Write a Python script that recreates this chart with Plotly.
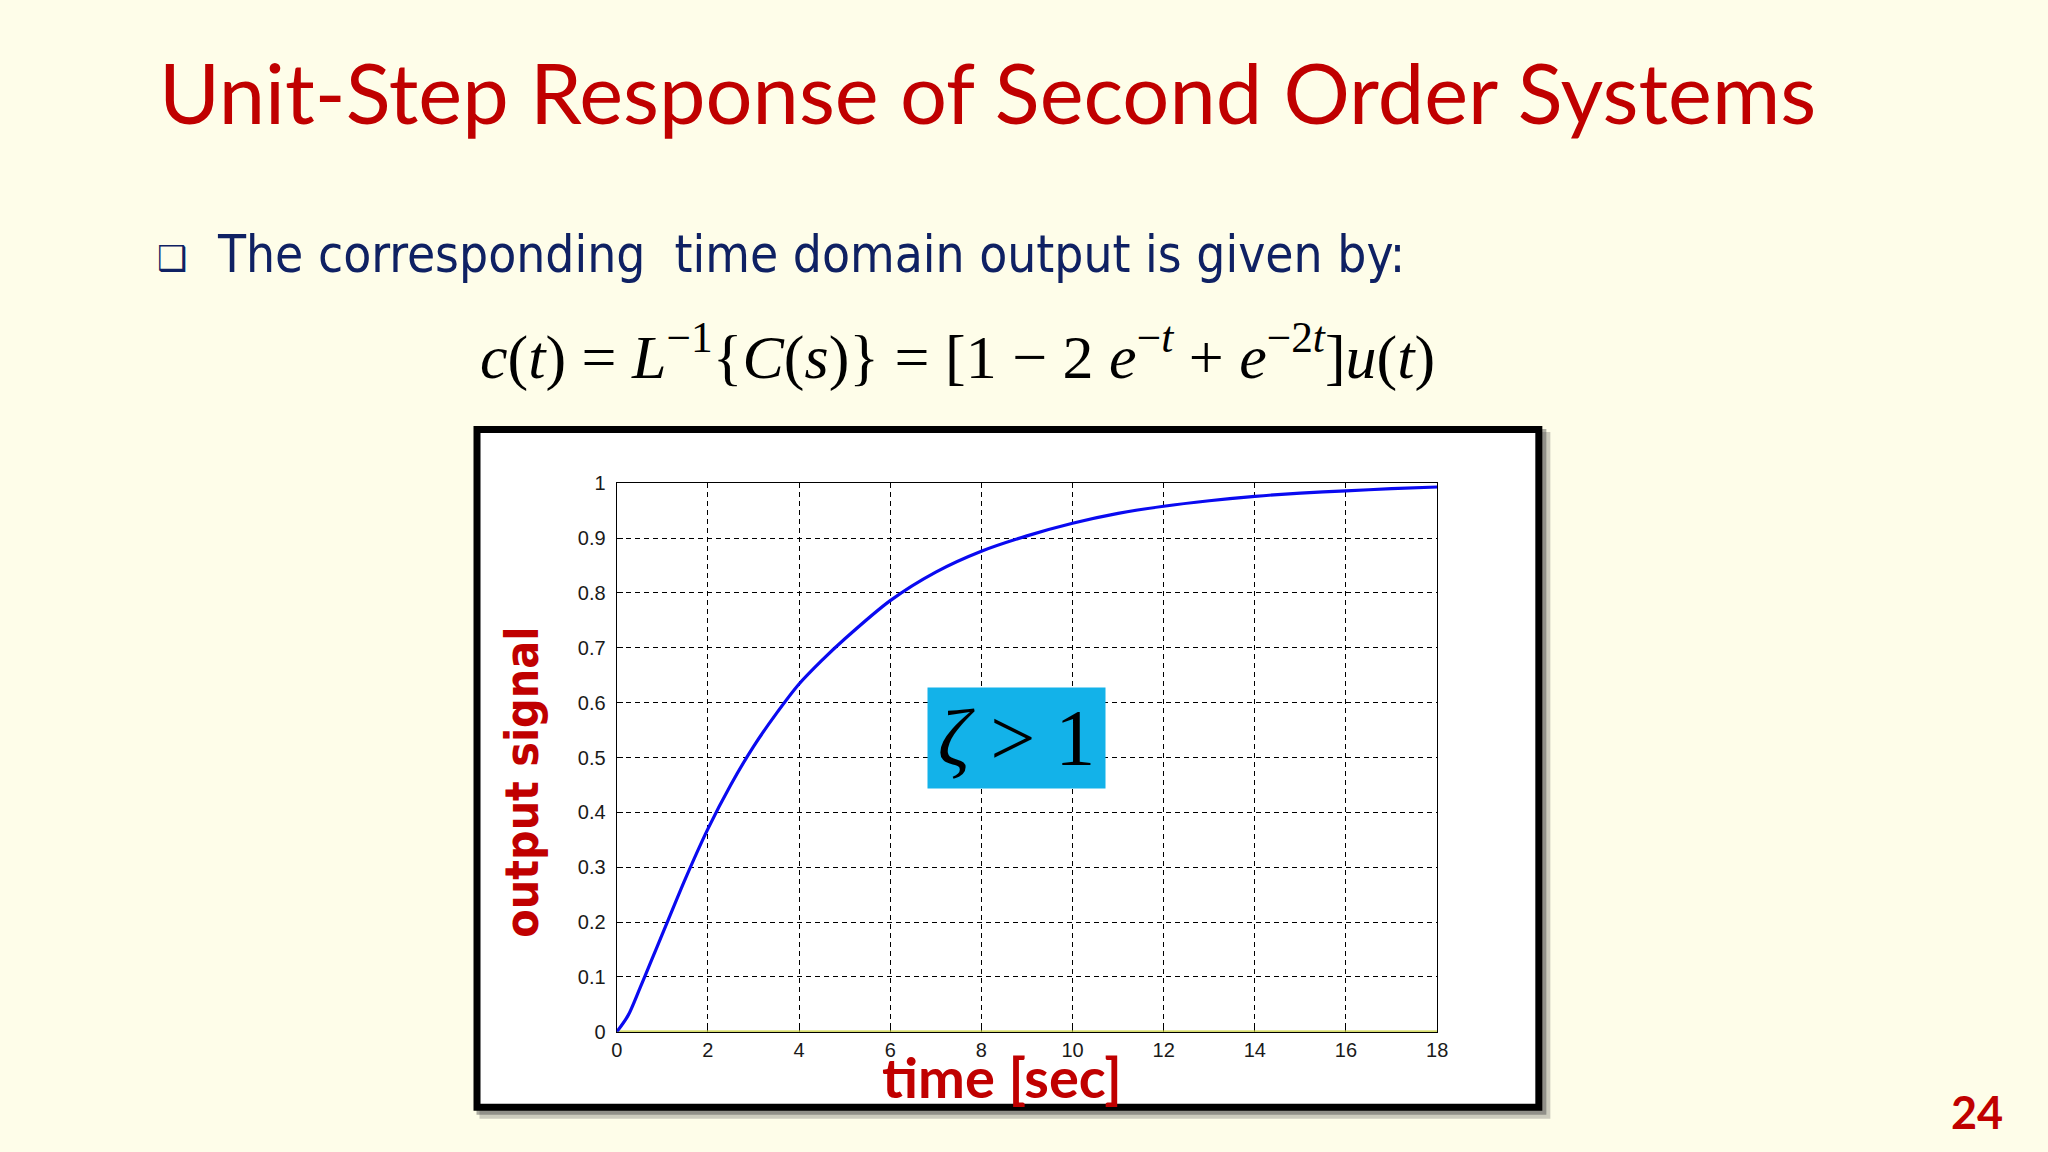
import plotly.graph_objects as go

# ---- data ----
t_sec = [0, 0.25, 0.5, 0.75, 1.0, 1.5, 2.0, 2.5, 3.0, 3.5, 4.0, 4.5, 5.0, 6.0,
         7.0, 8, 9, 10, 11, 12, 13, 14, 15, 16, 17, 18]
c_out = [0, 0.030, 0.078, 0.128, 0.178, 0.278, 0.370, 0.450, 0.520, 0.580, 0.634, 0.677, 0.716, 0.786,
         0.838, 0.876, 0.904, 0.927, 0.945, 0.958, 0.968, 0.976, 0.982, 0.986, 0.990, 0.993]
input_t = [0, 18]
input_v = [0, 0]
x_ticks = [0, 2, 4, 6, 8, 10, 12, 14, 16, 18]
y_ticks = [0, 0.1, 0.2, 0.3, 0.4, 0.5, 0.6, 0.7, 0.8, 0.9, 1]

title_text = "Unit-Step Response of Second Order Systems"
bullet_text = "The corresponding  time domain output is given by:"
formula_text = ("<i>c</i>(<i>t</i>) = <i>L</i><sup>−1</sup>{<i>C</i>(<i>s</i>)} = "
                "[1 − 2 <i>e</i><sup>−<i>t</i></sup> + <i>e</i><sup>−2<i>t</i></sup>]<i>u</i>(<i>t</i>)")
zeta_text = "<i>ζ</i> &gt; 1"
xlabel = "time [sec]"
ylabel = "output signal"
page_no = "24"

W, H = 2048, 1152
def px(x):
    return x / W
def py(y):
    return 1 - y / H
# small calibration for the framed plot box
def cx(x):
    return px((x - 7.3) / 0.990)
def cy(y):
    return py((y - 13.7) / 0.977)

RED = "#C00000"
NAVY = "#0F2163"
BG = "#FEFDE9"

fig = go.Figure()
fig.add_trace(go.Scatter(x=input_t, y=input_v, mode="lines",
                         line=dict(color="#C9D13A", width=2.5), hoverinfo="skip"))
fig.add_trace(go.Scatter(x=t_sec, y=c_out, mode="lines",
                         line=dict(color="#0A0AF0", width=3.2, shape="spline", smoothing=0.8),
                         hoverinfo="skip"))

# plot-area position (pixels)
L, R, T, B = 617, 1436, 484, 1030.5

axis_common = dict(showline=True, mirror=True, linecolor="black", linewidth=1.3,
                   showgrid=True, gridcolor="black", gridwidth=1.3, griddash="5px,4px",
                   zeroline=False, ticks="inside", ticklen=6, tickcolor="black",
                   tickfont=dict(family="Liberation Sans, Arial", size=20, color="#1a1a1a"),
                   layer="below traces")

fig.update_layout(
    width=W, height=H,
    margin=dict(l=0, r=0, t=0, b=0),
    paper_bgcolor=BG, plot_bgcolor="white",
    showlegend=False,
    xaxis=dict(domain=[cx(L), cx(R)], range=[0, 18], tickvals=x_ticks, **axis_common),
    yaxis=dict(domain=[cy(B), cy(T)], range=[0, 1], tickvals=y_ticks,
               ticklabelstandoff=6, **axis_common),
)

# frame around the plot image (shadow + black border)
fig.add_shape(type="rect", xref="paper", yref="paper", layer="below",
              x0=cx(480), x1=cx(1549), y0=cy(433), y1=cy(1117),
              fillcolor="rgba(90,90,90,0.30)", line=dict(width=0))
fig.add_shape(type="rect", xref="paper", yref="paper", layer="below",
              x0=cx(477), x1=cx(1545), y0=cy(430), y1=cy(1113),
              fillcolor="rgba(70,70,70,0.45)", line=dict(width=0))
fig.add_shape(type="rect", xref="paper", yref="paper", layer="below",
              x0=cx(477.5), x1=cx(1537.5), y0=cy(430.5), y1=cy(1105.5),
              fillcolor="white", line=dict(color="black", width=7))

ann = []
ann.append(dict(text=title_text, x=px(152), y=py(83), xref="paper", yref="paper",
                xanchor="left", yanchor="middle", showarrow=False,
                font=dict(family="Lato", size=83, color=RED)))
ann.append(dict(text="❑", x=px(167), y=py(252), xref="paper", yref="paper",
                xanchor="center", yanchor="middle", showarrow=False,
                font=dict(family="DejaVu Sans", size=34, color=NAVY)))
ann.append(dict(text=bullet_text, x=px(211), y=py(248), xref="paper", yref="paper",
                xanchor="left", yanchor="middle", showarrow=False,
                font=dict(family="DejaVu Sans Condensed, DejaVu Sans", size=51, color=NAVY)))
ann.append(dict(text=formula_text, x=px(959), y=py(348), xref="paper", yref="paper",
                xanchor="center", yanchor="middle", showarrow=False,
                font=dict(family="Liberation Serif, Times New Roman", size=62, color="black")))
ann.append(dict(text=zeta_text, x=8.76, y=0.535, xref="x", yref="y",
                xanchor="center", yanchor="middle", showarrow=False,
                width=177, height=100, bgcolor="#13B2E9", borderpad=0,
                font=dict(family="Liberation Serif, Times New Roman", size=80, color="black")))
ann.append(dict(text=ylabel, x=px(520), y=py(786), xref="paper", yref="paper",
                xanchor="center", yanchor="middle", showarrow=False, textangle=-90,
                font=dict(family="DejaVu Sans Condensed, DejaVu Sans", size=46, color=RED,
                          weight="bold")))
ann.append(dict(text="<b>" + xlabel + "</b>", x=px(1004), y=py(1086), xref="paper", yref="paper",
                xanchor="center", yanchor="middle", showarrow=False,
                font=dict(family="Lato", size=56, color=RED)))
ann.append(dict(text="<b>" + page_no + "</b>", x=px(1988), y=py(1122), xref="paper", yref="paper",
                xanchor="center", yanchor="middle", showarrow=False,
                font=dict(family="Lato", size=45, color=RED)))
fig.update_layout(annotations=ann)

fig.write_html("out.html", config={"displayModeBar": False},
               post_script="document.body.style.margin='0px';")
